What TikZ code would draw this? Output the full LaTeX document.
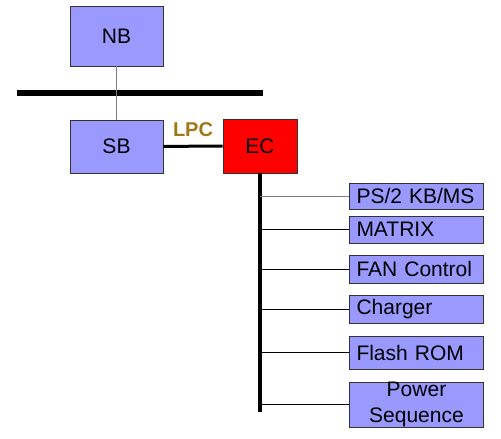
\documentclass[tikz,border=0pt]{standalone}
\usepackage{fontspec}
\setmainfont{Liberation Sans}
\usetikzlibrary{calc}
\definecolor{boxblue}{HTML}{9999FF}
\definecolor{lpcbrown}{HTML}{A07818}
\begin{document}
\begin{tikzpicture}[x=1pt,y=-1pt]
\tikzstyle{chip}=[draw=black!80,line width=0.8pt,fill=boxblue,minimum width=93pt,minimum height=54pt,inner sep=0pt,font=\fontsize{21}{25}\selectfont]
\tikzstyle{dev}=[draw=black!80,line width=0.8pt,fill=boxblue,text width=120pt,inner xsep=7pt,inner ysep=0pt,align=left,font=\fontsize{21}{26}\selectfont]
\useasboundingbox (0,0) rectangle (501,439);
% chips
\node[chip,minimum height=60pt] (NB) at (116.5,36) {NB};
\node[chip,minimum height=53pt] (SB) at (116.5,146.5) {SB};
\node[chip,fill=red,minimum width=74pt] (EC) at (260,146) {EC};
% bus
\coordinate (busL) at (17,93);
\coordinate (busR) at (263,93);
\draw[line width=6pt] (busL) -- (busR);
\draw[gray,line width=1pt] (NB) -- (SB);
\draw[line width=3pt] (SB) -- (EC) node[midway,above=5pt,text=lpcbrown,font=\bfseries\fontsize{20}{20}\selectfont] {LPC};
% devices
\foreach \name/\y/\h/\txt in {
	ps2/196/26/{PS/2 KB/MS},
	matrix/229.5/27/{MATRIX},
	fan/269/28/{FAN Control},
	charger/309/28/{Charger},
	flash/352.5/33/{Flash ROM}}
	\node[dev,minimum height=\h pt] (\name) at (416.5,\y) {\txt};
\node[dev,align=center,minimum height=45pt] (power) at (416.5,404.5) {Power\\Sequence};
\coordinate (spine) at (EC.south |- 0,412);
\draw[line width=4pt] (EC.south) -- (spine);
\draw[gray,line width=1pt] (EC.south |- ps2.west) -- (ps2.west);
\foreach \name in {matrix,fan,charger,flash,power}
	\draw[line width=1pt] (EC.south |- \name.west) -- (\name.west);
\end{tikzpicture}
\end{document}
